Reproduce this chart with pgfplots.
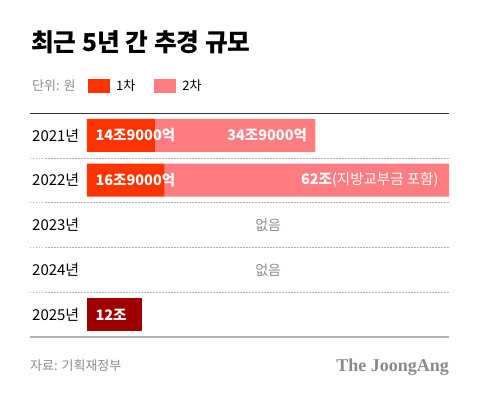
\documentclass[border=0pt]{standalone}
\usepackage{fontspec}
\usepackage{pgfplots}
\pgfplotsset{compat=1.18}
\setmainfont{Noto Sans CJK KR}
\newfontfamily\logofont{Liberation Serif}
\definecolor{cone}{HTML}{FF3300}
\definecolor{ctwo}{HTML}{FF7C80}
\definecolor{cthree}{HTML}{9E0000}
\definecolor{txtgray}{HTML}{8C8C8C}
\definecolor{logogray}{HTML}{8A8A8A}
\begin{document}
\begin{tikzpicture}
\path (0,0) rectangle (480pt,-397pt);
\node[anchor=west, inner sep=0pt, font=\fontsize{24.7}{28}\selectfont\bfseries] at (31pt,-42pt) {최근 5년 간 추경 규모};
\node[anchor=west, inner sep=0pt, text=txtgray, font=\fontsize{13}{15}\selectfont] at (32pt,-86pt) {단위: 원};
\begin{axis}[at={(30pt,-113pt)}, anchor=north west, scale only axis,
  width=419pt, height=224pt,
  xbar stacked, bar width=33pt,
  xmin=-12.42, xmax=78.9, ymin=-0.5, ymax=4.5, y dir=reverse,
  axis line style={draw=none}, major tick length=0pt,
  xtick=\empty, ytick={0,1,2,3,4},
  yticklabels={2021년,2022년,2023년,2024년,2025년},
  yticklabel style={anchor=west, inner sep=0pt, xshift=2pt, font=\fontsize{15}{17}\selectfont},
  clip=false,
  legend columns=2,
  legend style={draw=none, fill=none, inner sep=0pt, anchor=west,
    at={(axis description cs:0.1384,1.1205)}, font=\fontsize{13}{15}\selectfont,
    /tikz/every even column/.append style={column sep=17pt}},
  legend image code/.code={\fill[#1] (0pt,-7pt) rectangle (22pt,7pt); \path (26pt,0pt);},
  legend entries={1차,2차},
]
\addplot[fill=cone, draw=none] coordinates {(14.9,0) (16.9,1) (0,2) (0,3) (0,4)};
\addplot[fill=ctwo, draw=none] coordinates {(34.9,0) (62,1) (0,2) (0,3) (0,4)};
\addplot[fill=cthree, draw=none] coordinates {(0,0) (0,1) (0,2) (0,3) (12,4)};
\draw[color=black!80, line width=1pt] (axis cs:-12.42,-0.5) -- (axis cs:78.9,-0.5);
\draw[color=black!30, line width=1.4pt] (axis cs:-12.42,4.5) -- (axis cs:78.9,4.5);
\draw[color=black!30, line width=0.6pt, dash pattern=on 1.5pt off 1.5pt] (axis cs:-12.42,0.5) -- (axis cs:78.9,0.5);
\draw[color=black!30, line width=0.6pt, dash pattern=on 1.5pt off 1.5pt] (axis cs:-12.42,1.5) -- (axis cs:78.9,1.5);
\draw[color=black!30, line width=0.6pt, dash pattern=on 1.5pt off 1.5pt] (axis cs:-12.42,2.5) -- (axis cs:78.9,2.5);
\draw[color=black!30, line width=0.6pt, dash pattern=on 1.5pt off 1.5pt] (axis cs:-12.42,3.5) -- (axis cs:78.9,3.5);
\coordinate (p0) at (axis cs:0,0);
\coordinate (p1) at (axis cs:49.8,0);
\coordinate (p2) at (axis cs:0,1);
\coordinate (p3) at (axis cs:78.9,1);
\coordinate (p4) at (axis cs:39.5,2);
\coordinate (p5) at (axis cs:39.5,3);
\coordinate (p6) at (axis cs:0,4);
\end{axis}
\node[anchor=west, text=white, font=\fontsize{14.5}{16}\selectfont\bfseries, xshift=5pt] at (p0) {14조9000억};
\node[anchor=east, text=white, font=\fontsize{14.5}{16}\selectfont\bfseries, xshift=-5pt] at (p1) {34조9000억};
\node[anchor=west, text=white, font=\fontsize{14.5}{16}\selectfont\bfseries, xshift=5pt] at (p2) {16조9000억};
\node[anchor=east, text=white, font=\fontsize{14.5}{16}\selectfont, xshift=-7pt] at (p3) {\textbf{62조}(지방교부금 포함)};
\node[text=txtgray, font=\fontsize{14}{16}\selectfont] at (p4) {없음};
\node[text=txtgray, font=\fontsize{14}{16}\selectfont] at (p5) {없음};
\node[anchor=west, text=white, font=\fontsize{14.5}{16}\selectfont\bfseries, xshift=5pt] at (p6) {12조};
\node[anchor=west, inner sep=0pt, text=txtgray, font=\fontsize{13}{15}\selectfont] at (30pt,-366pt) {자료: 기획재정부};
\node[anchor=east, inner sep=0pt, text=logogray, font=\logofont\bfseries\fontsize{18}{20}\selectfont] at (449pt,-367pt) {The JoongAng};
\end{tikzpicture}
\end{document}
